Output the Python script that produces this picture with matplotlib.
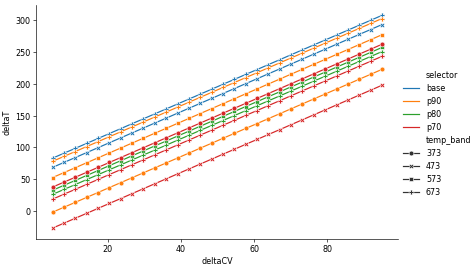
import pandas as pd
import matplotlib
matplotlib.use('Agg')
import matplotlib.pyplot as plt
import seaborn as sns

# 数据
delta_cv = [5.0, 8.1, 11.2, 14.3, 17.4, 20.5, 23.6, 26.7, 29.8, 32.9,
            36.0, 39.1, 42.2, 45.3, 48.4, 51.5, 54.6, 57.7, 60.8, 63.9,
            67.0, 70.1, 73.2, 76.3, 79.4, 82.5, 85.6, 88.7, 91.8, 94.9]

selector_order = ['base', 'p90', 'p80', 'p70']
temp_order = ['373', '473', '573', '673']

# (selector, temp_band) -> deltaT
base_673 = [83.0, 90.8, 98.5, 106.3, 114.0, 121.8, 129.5, 137.3, 145.0, 152.8,
            160.5, 168.3, 176.0, 183.8, 191.5, 199.3, 207.0, 214.8, 222.5, 230.3,
            238.0, 245.8, 253.5, 261.3, 269.0, 276.8, 284.5, 292.3, 300.0, 307.8]
base_473 = [68.5, 76.3, 84.0, 91.8, 99.5, 107.3, 115.0, 122.8, 130.5, 138.3,
            146.0, 153.8, 161.5, 169.3, 177.0, 184.8, 192.5, 200.3, 208.0, 215.8,
            223.5, 231.3, 239.0, 246.8, 254.5, 262.3, 270.0, 277.8, 285.5, 293.3]
p90_673 = [78.0, 85.8, 93.5, 101.3, 109.0, 116.8, 124.5, 132.3, 140.0, 147.8,
           155.5, 163.3, 171.0, 178.8, 186.5, 194.3, 202.0, 209.8, 217.5, 225.3,
           233.0, 240.8, 248.5, 256.3, 264.0, 271.8, 279.5, 287.3, 295.0, 302.8]
p90_573 = [52.5, 60.3, 68.0, 75.8, 83.5, 91.3, 99.0, 106.8, 114.5, 122.3,
           130.0, 137.8, 145.5, 153.3, 161.0, 168.8, 176.5, 184.3, 192.0, 199.8,
           207.5, 215.3, 223.0, 230.8, 238.5, 246.3, 254.0, 261.8, 269.5, 277.3]
p90_373 = [-2.0, 5.8, 13.5, 21.3, 29.0, 36.8, 44.5, 52.3, 60.0, 67.8,
           75.5, 83.3, 91.0, 98.8, 106.5, 114.3, 122.0, 129.8, 137.5, 145.3,
           153.0, 160.8, 168.5, 176.3, 184.0, 191.8, 199.5, 207.3, 215.0, 222.8]
p80_573 = [32.5, 40.3, 48.0, 55.8, 63.5, 71.3, 79.0, 86.8, 94.5, 102.3,
           110.0, 117.8, 125.5, 133.3, 141.0, 148.8, 156.5, 164.3, 172.0, 179.8,
           187.5, 195.3, 203.0, 210.8, 218.5, 226.3, 234.0, 241.8, 249.5, 257.3]
p80_673 = [26.0, 33.8, 41.5, 49.3, 57.0, 64.8, 72.5, 80.3, 88.0, 95.8,
           103.5, 111.3, 119.0, 126.8, 134.5, 142.3, 150.0, 157.8, 165.5, 173.3,
           181.0, 188.8, 196.5, 204.3, 212.0, 219.8, 227.5, 235.3, 243.0, 250.8]
p70_373 = [37.5, 45.3, 53.0, 60.8, 68.5, 76.3, 84.0, 91.8, 99.5, 107.3,
           115.0, 122.8, 130.5, 138.3, 146.0, 153.8, 161.5, 169.3, 177.0, 184.8,
           192.5, 200.3, 208.0, 215.8, 223.5, 231.3, 239.0, 246.8, 254.5, 262.3]
p70_673 = [18.5, 26.3, 34.0, 41.8, 49.5, 57.3, 65.0, 72.8, 80.5, 88.3,
           96.0, 103.8, 111.5, 119.3, 127.0, 134.8, 142.5, 150.3, 158.0, 165.8,
           173.5, 181.3, 189.0, 196.8, 204.5, 212.3, 220.0, 227.8, 235.5, 243.3]
p70_473 = [-27.0, -19.3, -11.5, -3.8, 4.0, 11.8, 19.5, 27.3, 35.0, 42.8,
           50.5, 58.3, 66.0, 73.8, 81.5, 89.3, 97.0, 104.8, 112.5, 120.3,
           128.0, 135.8, 143.5, 151.3, 159.0, 166.8, 174.5, 182.3, 190.0, 197.8]

series = [
    ('base', '673', base_673), ('base', '473', base_473),
    ('p90', '673', p90_673), ('p90', '573', p90_573), ('p90', '373', p90_373),
    ('p80', '573', p80_573), ('p80', '673', p80_673),
    ('p70', '373', p70_373), ('p70', '673', p70_673), ('p70', '473', p70_473),
]

# 拼成长表
rows = []
for sel, tb, vals in series:
    for x, y in zip(delta_cv, vals):
        rows.append({'deltaCV': x, 'deltaT': y, 'selector': sel, 'temp_band': tb})
df = pd.DataFrame(rows)

dpi = 58
fig = plt.figure(figsize=(474.4 / dpi, 268.4 / dpi), dpi=dpi)
ax = fig.add_axes([0.076, 0.109, 0.764, 0.872])
sns.lineplot(data=df, x='deltaCV', y='deltaT', hue='selector', style='temp_band',
             hue_order=selector_order, style_order=temp_order,
             markers=True, dashes=False, ax=ax)
sns.despine(ax=ax)

handles, labels = ax.get_legend_handles_labels()
ax.get_legend().remove()
fig.legend(handles, labels, loc='center left', bbox_to_anchor=(0.835, 0.5), frameon=False)

fig.savefig('out.png', dpi=dpi)
